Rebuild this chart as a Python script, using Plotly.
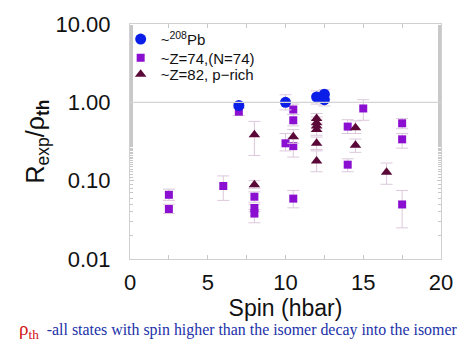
import plotly.graph_objects as go

# ---- data ----
pb_spin = [7, 10, 12, 12.5, 12.5]
pb_ratio = [0.91, 1.00, 1.17, 1.27, 1.08]
pb_hi = [0.98, 1.25, 1.40, 1.45, 1.20]
pb_lo = [0.85, 0.80, 0.95, 1.10, 0.90]

w_spin = [2.5, 2.5, 6, 7, 8, 8, 8, 10, 10.5, 10.5, 10.5, 10.5, 14, 14, 15, 17.5, 17.5, 17.5]
w_ratio = [0.066, 0.0435, 0.0855, 0.76, 0.0624, 0.0448, 0.038, 0.30, 0.81, 0.59, 0.276, 0.059,
           0.49, 0.16, 0.835, 0.54, 0.337, 0.0497]
w_hi = [0.078, 0.050, 0.115, 0.85, 0.072, 0.050, 0.043, 0.40, 0.95, 0.70, 0.35, 0.075,
        0.60, 0.19, 1.08, 0.62, 0.40, 0.075]
w_lo = [0.056, 0.038, 0.056, 0.68, 0.053, 0.040, 0.029, 0.24, 0.70, 0.50, 0.20, 0.045,
        0.40, 0.13, 0.59, 0.46, 0.26, 0.025]

p_spin = [8, 8, 10.5, 12, 12, 12, 12, 12, 12, 14.5, 14.5, 16.5]
p_ratio = [0.386, 0.089, 0.364, 0.62, 0.55, 0.50, 0.45, 0.30, 0.178, 0.475, 0.284, 0.128]
p_hi = [0.571, 0.100, 0.45, 0.72, 0.65, 0.60, 0.52, 0.36, 0.24, 0.58, 0.34, 0.168]
p_lo = [0.21, 0.080, 0.30, 0.54, 0.48, 0.43, 0.38, 0.25, 0.13, 0.40, 0.23, 0.090]

y_tickvals = [0.01, 0.1, 1, 10]
y_ticktext = ["0.01", "0.10", "1.00", "10.00"]
x_tickvals = [0, 5, 10, 15, 20]

ERR_COLOR = "#dcc8dc"
SANS = "Liberation Sans, Arial"


def err(y, hi, lo):
    return dict(type="data", symmetric=False,
                array=[h - v for h, v in zip(hi, y)],
                arrayminus=[v - l for v, l in zip(y, lo)],
                color=ERR_COLOR, thickness=1, width=6)


fig = go.Figure()
fig.add_trace(go.Scatter(
    x=w_spin, y=w_ratio, mode="markers", name="~Z=74,(N=74)", legend="legend2",
    marker=dict(symbol="square", size=8, color="#8a0fd0"),
    error_y=err(w_ratio, w_hi, w_lo)))
fig.add_trace(go.Scatter(
    x=p_spin, y=p_ratio, mode="markers", name="~Z=82, p\u2212rich", legend="legend3",
    marker=dict(symbol="triangle-up", size=10, color="#5a0838"),
    error_y=err(p_ratio, p_hi, p_lo)))
fig.add_trace(go.Scatter(
    x=pb_spin, y=pb_ratio, mode="markers", name="~<sup>208</sup>Pb", legend="legend",
    marker=dict(symbol="circle", size=11, color="#0a1ee8"),
    error_y=err(pb_ratio, pb_hi, pb_lo)))

fig.add_hline(y=1, line=dict(color="#d4d4d4", width=1.2))

axis_common = dict(showline=True, linecolor="#d0d0d0", linewidth=1, mirror="ticks",
                   ticks="inside", ticklen=4, tickcolor="#c8c8c8", showgrid=False,
                   zeroline=False, tickfont=dict(family=SANS, size=22, color="#111"))

fig.update_xaxes(range=[0, 20], tickvals=x_tickvals, ticklabelstandoff=4,
                 minor=dict(dtick=2.5, ticks="inside", ticklen=4, tickcolor="#c8c8c8"),
                 title=dict(text="Spin (hbar)", font=dict(family=SANS, size=23, color="#111"),
                            standoff=4),
                 **axis_common)
fig.update_yaxes(type="log", range=[-2, 1], tickvals=y_tickvals, ticktext=y_ticktext,
                 ticklabelstandoff=14,
                 minor=dict(ticks="inside", ticklen=3, tickcolor="#c8c8c8"),
                 **axis_common)

fig.add_annotation(xref="paper", yref="paper", x=-0.36, y=0.5, textangle=-90,
                   text="R<sub>exp</sub>/\u03c1<sub><b>th</b></sub>", showarrow=False,
                   font=dict(family=SANS, size=25, color="#111"))

fig.add_annotation(xref="paper", yref="paper", x=-0.362, y=-0.30, xanchor="left", yanchor="middle",
                   showarrow=False,
                   text="<span style='color:#d01010;font-size:19px'>\u03c1<sub>th</sub></span>"
                        "  -all states with spin higher than the isomer decay into the isomer",
                   font=dict(family="Liberation Serif, Times New Roman", size=15.9, color="#2030a8"))


def leg(yc):
    return dict(x=-0.03, y=yc, xanchor="left", yanchor="middle", bgcolor="rgba(0,0,0,0)",
                font=dict(family=SANS, size=15, color="#111"), itemwidth=30)


fig.update_layout(
    width=474, height=355,
    margin=dict(l=130, r=33, t=15, b=96),
    paper_bgcolor="white", plot_bgcolor="white",
    showlegend=True,
    legend=leg(0.935),
    legend2=leg(0.855),
    legend3=leg(0.785),
)

fig.write_html("out.html", config={"displayModeBar": False},
               post_script="document.body.style.margin='0';document.body.style.padding='0';")
